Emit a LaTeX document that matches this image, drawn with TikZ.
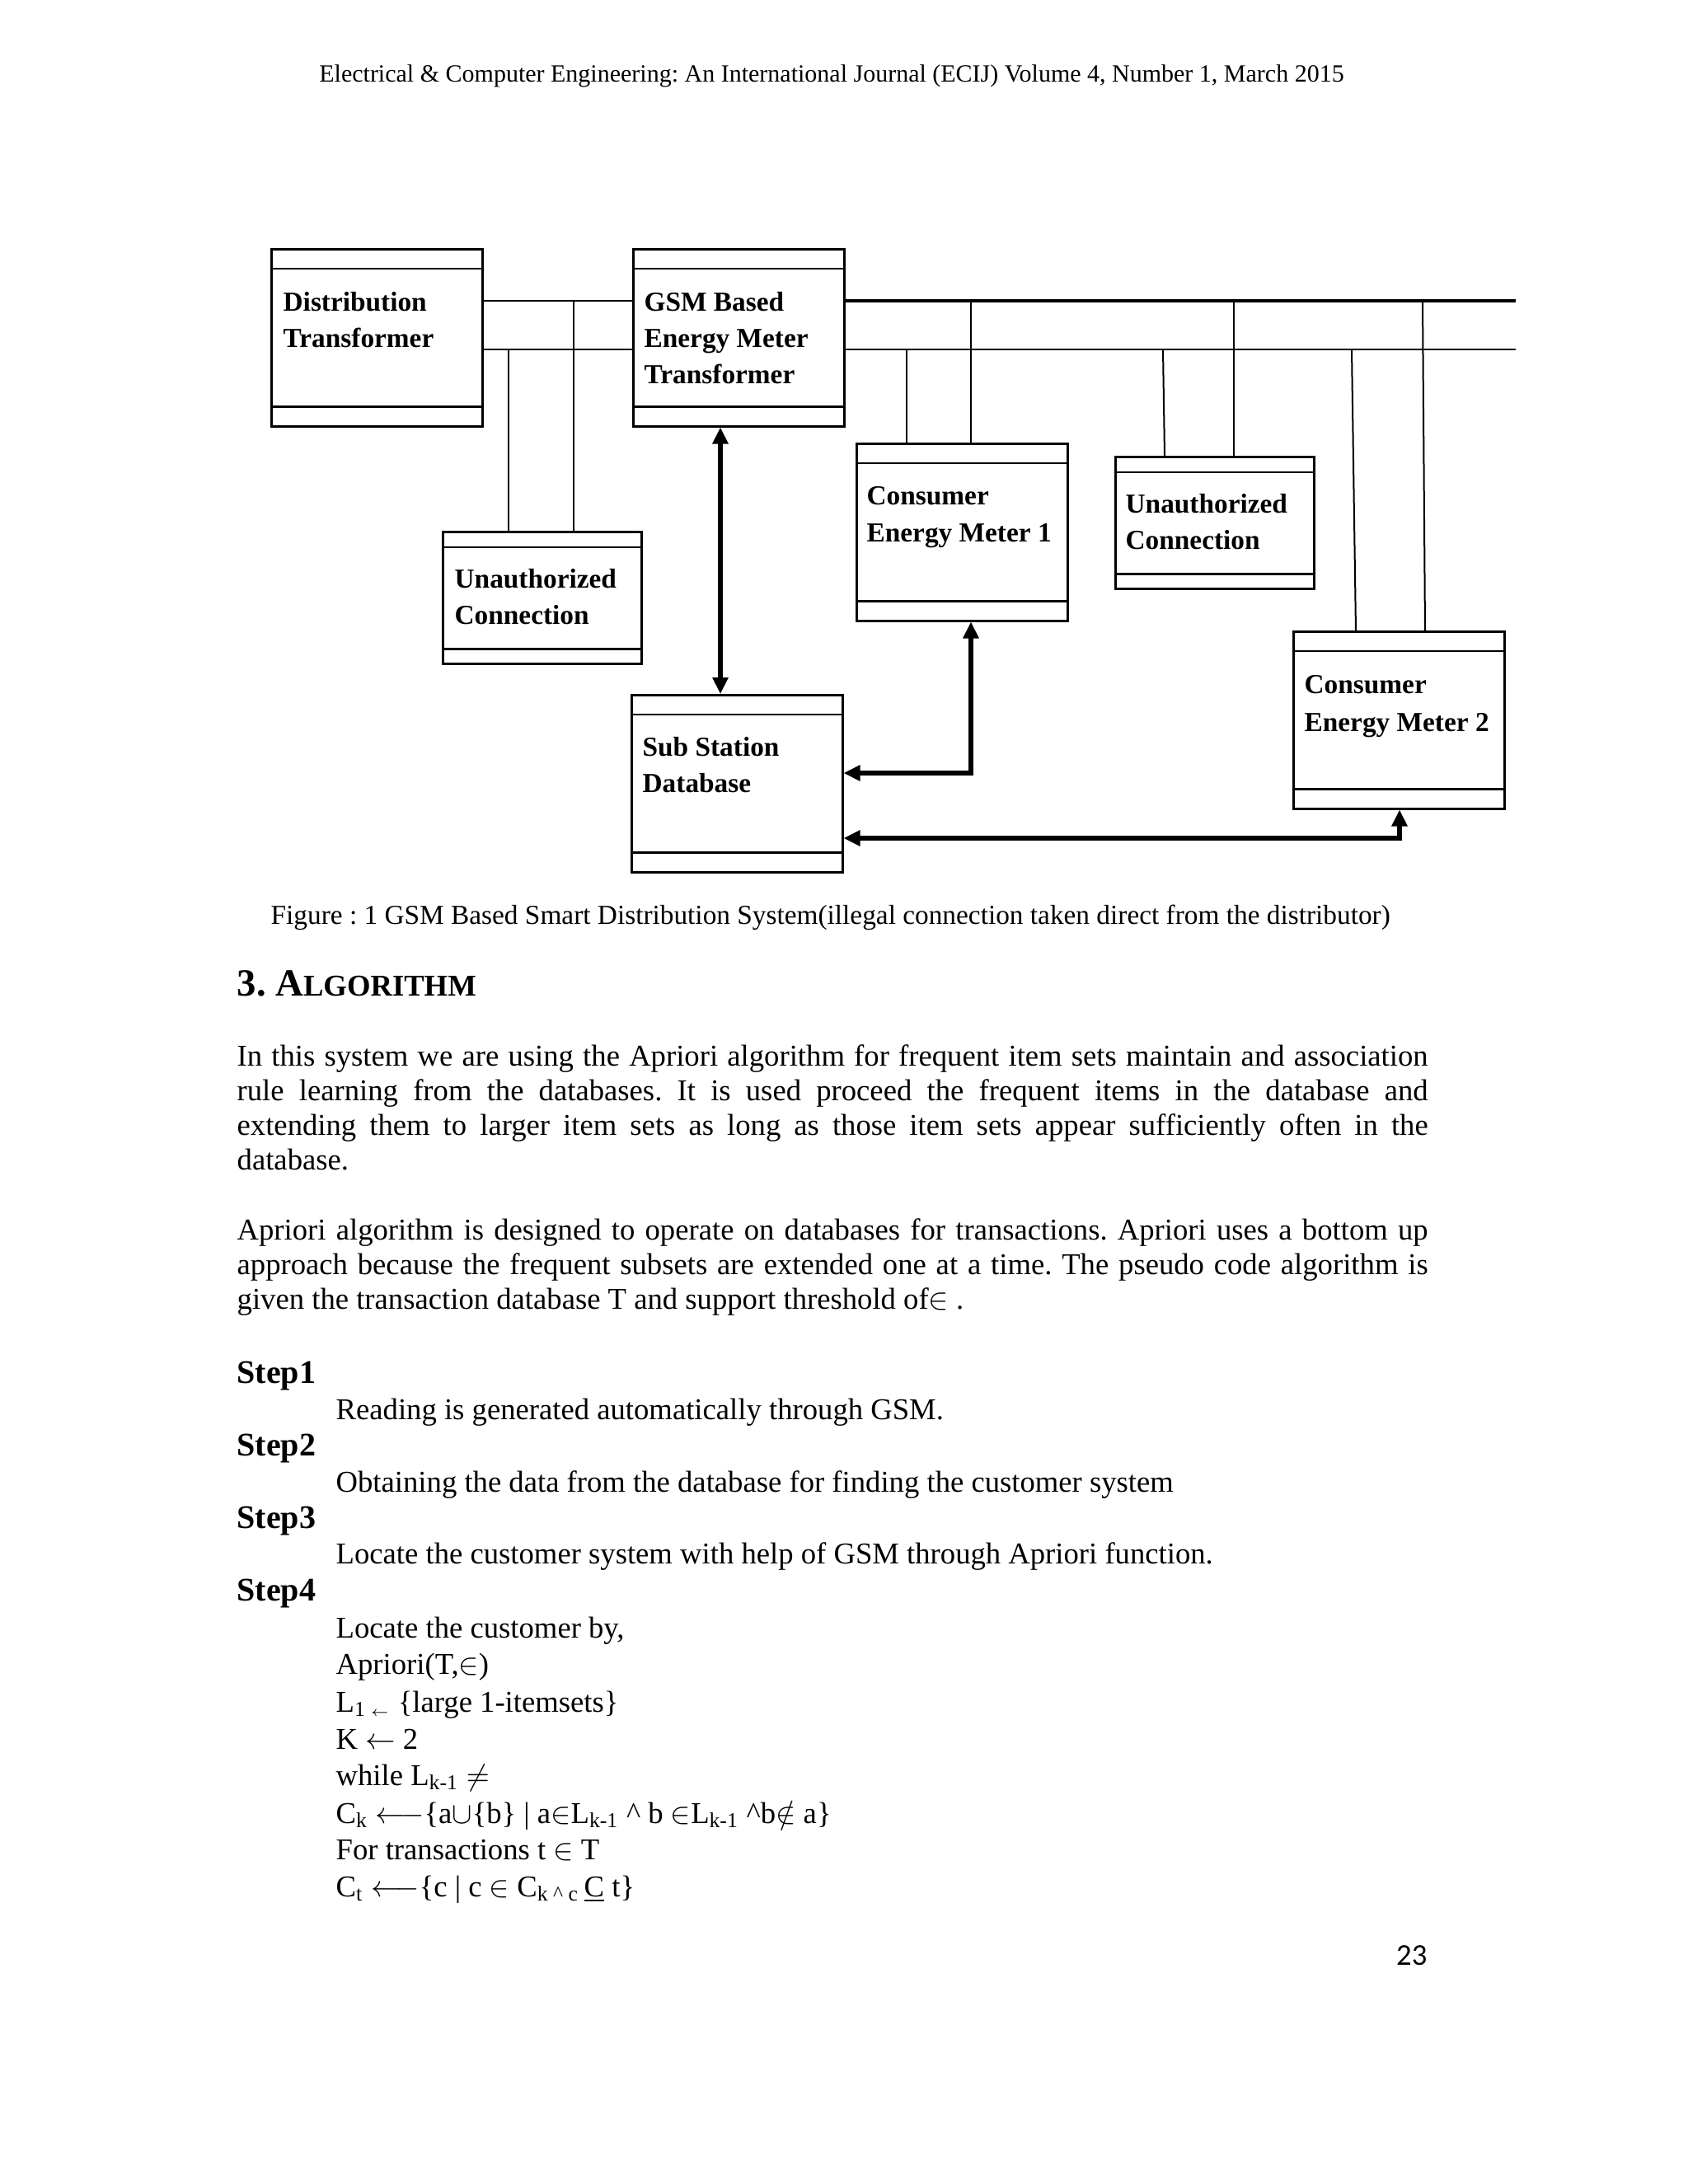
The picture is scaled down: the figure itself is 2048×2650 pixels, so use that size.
\documentclass[tikz,border=0pt]{standalone}
\usepackage{fontspec}
\setmainfont{Liberation Serif}
\newfontfamily\pagenumfont{Carlito}
\usetikzlibrary{arrows.meta,calc}
\newcommand{\jline}[1]{\makebox[433.5pt][s]{#1}}
\frenchspacing
\begin{document}
\begin{tikzpicture}[x=0.3pt,y=-0.3pt,
  bigbox/.style={draw, line width=0.75pt, rectangle, inner sep=0pt, anchor=north west, minimum width=76.8pt, minimum height=64.5pt},
  smallbox/.style={draw, line width=0.75pt, rectangle, inner sep=0pt, anchor=north west, minimum width=72.3pt, minimum height=48pt},
  sepline/.style={line width=0.75pt},
  lbl/.style={anchor=base west, inner sep=0pt, font=\fontsize{10}{12}\selectfont\bfseries},
  txt/.style={anchor=base west, inner sep=0pt, font=\fontsize{11}{13}\selectfont},
  steplbl/.style={anchor=base west, inner sep=0pt, font=\fontsize{12}{14}\selectfont\bfseries},
  bus/.style={line width=0.6pt},
  busthick/.style={line width=1.2pt},
  drop/.style={line width=0.6pt},
  biarrow/.style={line width=1.6pt, {Triangle[length=6pt,width=5.5pt]}-{Triangle[length=6pt,width=5.5pt]}},
]
\fill[white] (0,0) rectangle (2048,2650);
\useasboundingbox (0,0) rectangle (2048,2650);

% header
\node[anchor=base, inner sep=0pt, font=\fontsize{9}{11}\selectfont] (hdr) at (1009,99) {Electrical \& Computer Engineering: An International Journal (ECIJ) Volume 4, Number 1, March 2015};

% boxes
\node[bigbox] (dist) at (328,301) {};
\node[bigbox] (gsm) at (767,301) {};
\node[smallbox] (un1) at (536,644) {};
\node[bigbox] (cem1) at (1038,537) {};
\node[smallbox] (un2) at (1352,553) {};
\node[bigbox] (cem2) at (1568,765) {};
\node[bigbox] (sub) at (765,842) {};

\foreach \b in {dist,gsm,cem1,cem2,sub} {
  \draw[sepline] ([yshift=-7.5pt]\b.north west) -- ([yshift=-7.5pt]\b.north east);
  \draw[sepline] ([yshift=7.5pt]\b.south west) -- ([yshift=7.5pt]\b.south east);
}
\foreach \b in {un1,un2} {
  \draw[sepline] ([yshift=-6pt]\b.north west) -- ([yshift=-6pt]\b.north east);
  \draw[sepline] ([yshift=5.7pt]\b.south west) -- ([yshift=5.7pt]\b.south east);
}

% bus lines
\coordinate (ub) at (0,365);
\coordinate (lb) at (0,424);
\coordinate (busend1) at (1839,365);
\coordinate (busend2) at (1839,424);
\draw[bus] (dist.east |- ub) -- (gsm.west |- ub);
\draw[bus] (dist.east |- lb) -- (gsm.west |- lb);
\draw[busthick] (gsm.east |- ub) -- (busend1);
\draw[bus] (gsm.east |- lb) -- (busend2);

% drops
\coordinate (d1) at (617,424);
\coordinate (d2) at (696,365);
\coordinate (d3) at (1100,424);
\coordinate (d4) at (1178,365);
\coordinate (d5) at (1411,424);
\coordinate (d6) at (1497,365);
\coordinate (d7) at (1640,424);
\coordinate (d8) at (1726,365);
\draw[drop] (d1) -- (d1 |- un1.north);
\draw[drop] (d2) -- (d2 |- un1.north);
\draw[drop] (d3) -- (d3 |- cem1.north);
\draw[drop] (d4) -- (d4 |- cem1.north);
\draw[drop] (d5) -- ($(d5 |- un2.north)+(2,0)$);
\draw[drop] (d6) -- (d6 |- un2.north);
\draw[drop] (d7) -- ($(d7 |- cem2.north)+(5,0)$);
\draw[drop] (d8) -- ($(d8 |- cem2.north)+(3,0)$);

% arrows
\coordinate (a0) at (874,0);
\draw[biarrow] (gsm.south -| a0) -- (sub.north -| a0);
\coordinate (a1) at (1178,938);
\draw[biarrow] (cem1.south -| a1) -- (a1) -- (a1 -| sub.east);
\coordinate (a2) at (1698,1017);
\draw[biarrow] (cem2.south -| a2) -- (a2) -- (a2 -| sub.east);

% box labels
\node[lbl] (distL1) at (343,377) {Distribution};
\node[lbl] (distL2) at (343,421) {Transformer};
\node[lbl] (gsmL1) at (781,377) {GSM Based};
\node[lbl] (gsmL2) at (781,421) {Energy Meter};
\node[lbl] (gsmL3) at (781,465) {Transformer};
\node[lbl] (un1L1) at (551,713) {Unauthorized};
\node[lbl] (un1L2) at (551,757) {Connection};
\node[lbl] (cem1L1) at (1051,612) {Consumer};
\node[lbl] (cem1L2) at (1051,657) {Energy Meter 1};
\node[lbl] (un2L1) at (1365,622) {Unauthorized};
\node[lbl] (un2L2) at (1365,666) {Connection};
\node[lbl] (cem2L1) at (1582,841) {Consumer};
\node[lbl] (cem2L2) at (1582,887) {Energy Meter 2};
\node[lbl] (subL1) at (779,917) {Sub Station};
\node[lbl] (subL2) at (779,961) {Database};

% caption and section
\node[anchor=base west, inner sep=0pt, font=\fontsize{10}{12}\selectfont] (cap) at (328,1121) {Figure : 1 GSM Based Smart Distribution System(illegal connection taken direct from the distributor)};
\node[anchor=base west, inner sep=0pt] (sec) at (287,1208) {\fontsize{14}{16}\selectfont\bfseries 3. A\fontsize{11}{13}\selectfont LGORITHM};

% paragraph 1
\node[txt] (p1a) at (287,1293) {\jline{In this system we are using the Apriori algorithm for frequent item sets maintain and association}};
\node[txt] (p1b) at (287,1335) {\jline{rule learning from the databases. It is used proceed the frequent items in the database and}};
\node[txt] (p1c) at (287,1377) {\jline{extending them to larger item sets as long as those item sets appear sufficiently often in the}};
\node[txt] (p1d) at (287,1419) {database.};

% paragraph 2
\node[txt] (p2a) at (287,1504) {\jline{Apriori algorithm is designed to operate on databases for transactions. Apriori uses a bottom up}};
\node[txt] (p2b) at (287,1546) {\jline{approach because the frequent subsets are extended one at a time. The pseudo code algorithm is}};
\node[txt] (p2c) at (287,1588) {given the transaction database T and support threshold of$\in$ .};

% steps
\node[steplbl] (s1) at (287,1678) {Step1};
\node[txt] (s1t) at (407,1722) {Reading is generated automatically through GSM.};
\node[steplbl] (s2) at (287,1766) {Step2};
\node[txt] (s2t) at (407,1810) {Obtaining the data from the database for finding the customer system};
\node[steplbl] (s3) at (287,1854) {Step3};
\node[txt] (s3t) at (407,1897) {Locate the customer system with help of GSM through Apriori function.};
\node[steplbl] (s4) at (287,1942) {Step4};
\node[txt] (s4a) at (407,1987) {Locate the customer by,};
\node[txt] (s4b) at (407,2031) {Apriori(T,$\in$)};
\node[txt] (s4c) at (407,2077) {L\textsubscript{1 $\scriptstyle\leftarrow$} \{large 1-itemsets\}};
\node[txt] (s4d) at (407,2122) {K $\leftarrow$ 2};
\node[txt] (s4e) at (407,2166) {while L\textsubscript{k-1} $\neq$};
\node[txt] (s4f) at (407,2212) {C\textsubscript{k} $\longleftarrow$\{a$\cup$\{b\} | a$\in$L\textsubscript{k-1} \textasciicircum{} b $\in$L\textsubscript{k-1} \textasciicircum{}b$\notin$ a\}};
\node[txt] (s4g) at (407,2256) {For transactions t $\in$ T};
\node[txt] (s4h) at (407,2301) {C\textsubscript{t} $\longleftarrow$\{c | c $\in$ C\textsubscript{k \textasciicircum{} c}\,\underline{C} t\}};

% page number
\node[anchor=base east, inner sep=0pt, font=\pagenumfont\fontsize{11}{13}\selectfont] (pg) at (1732,2384) {23};
\end{tikzpicture}
\end{document}
